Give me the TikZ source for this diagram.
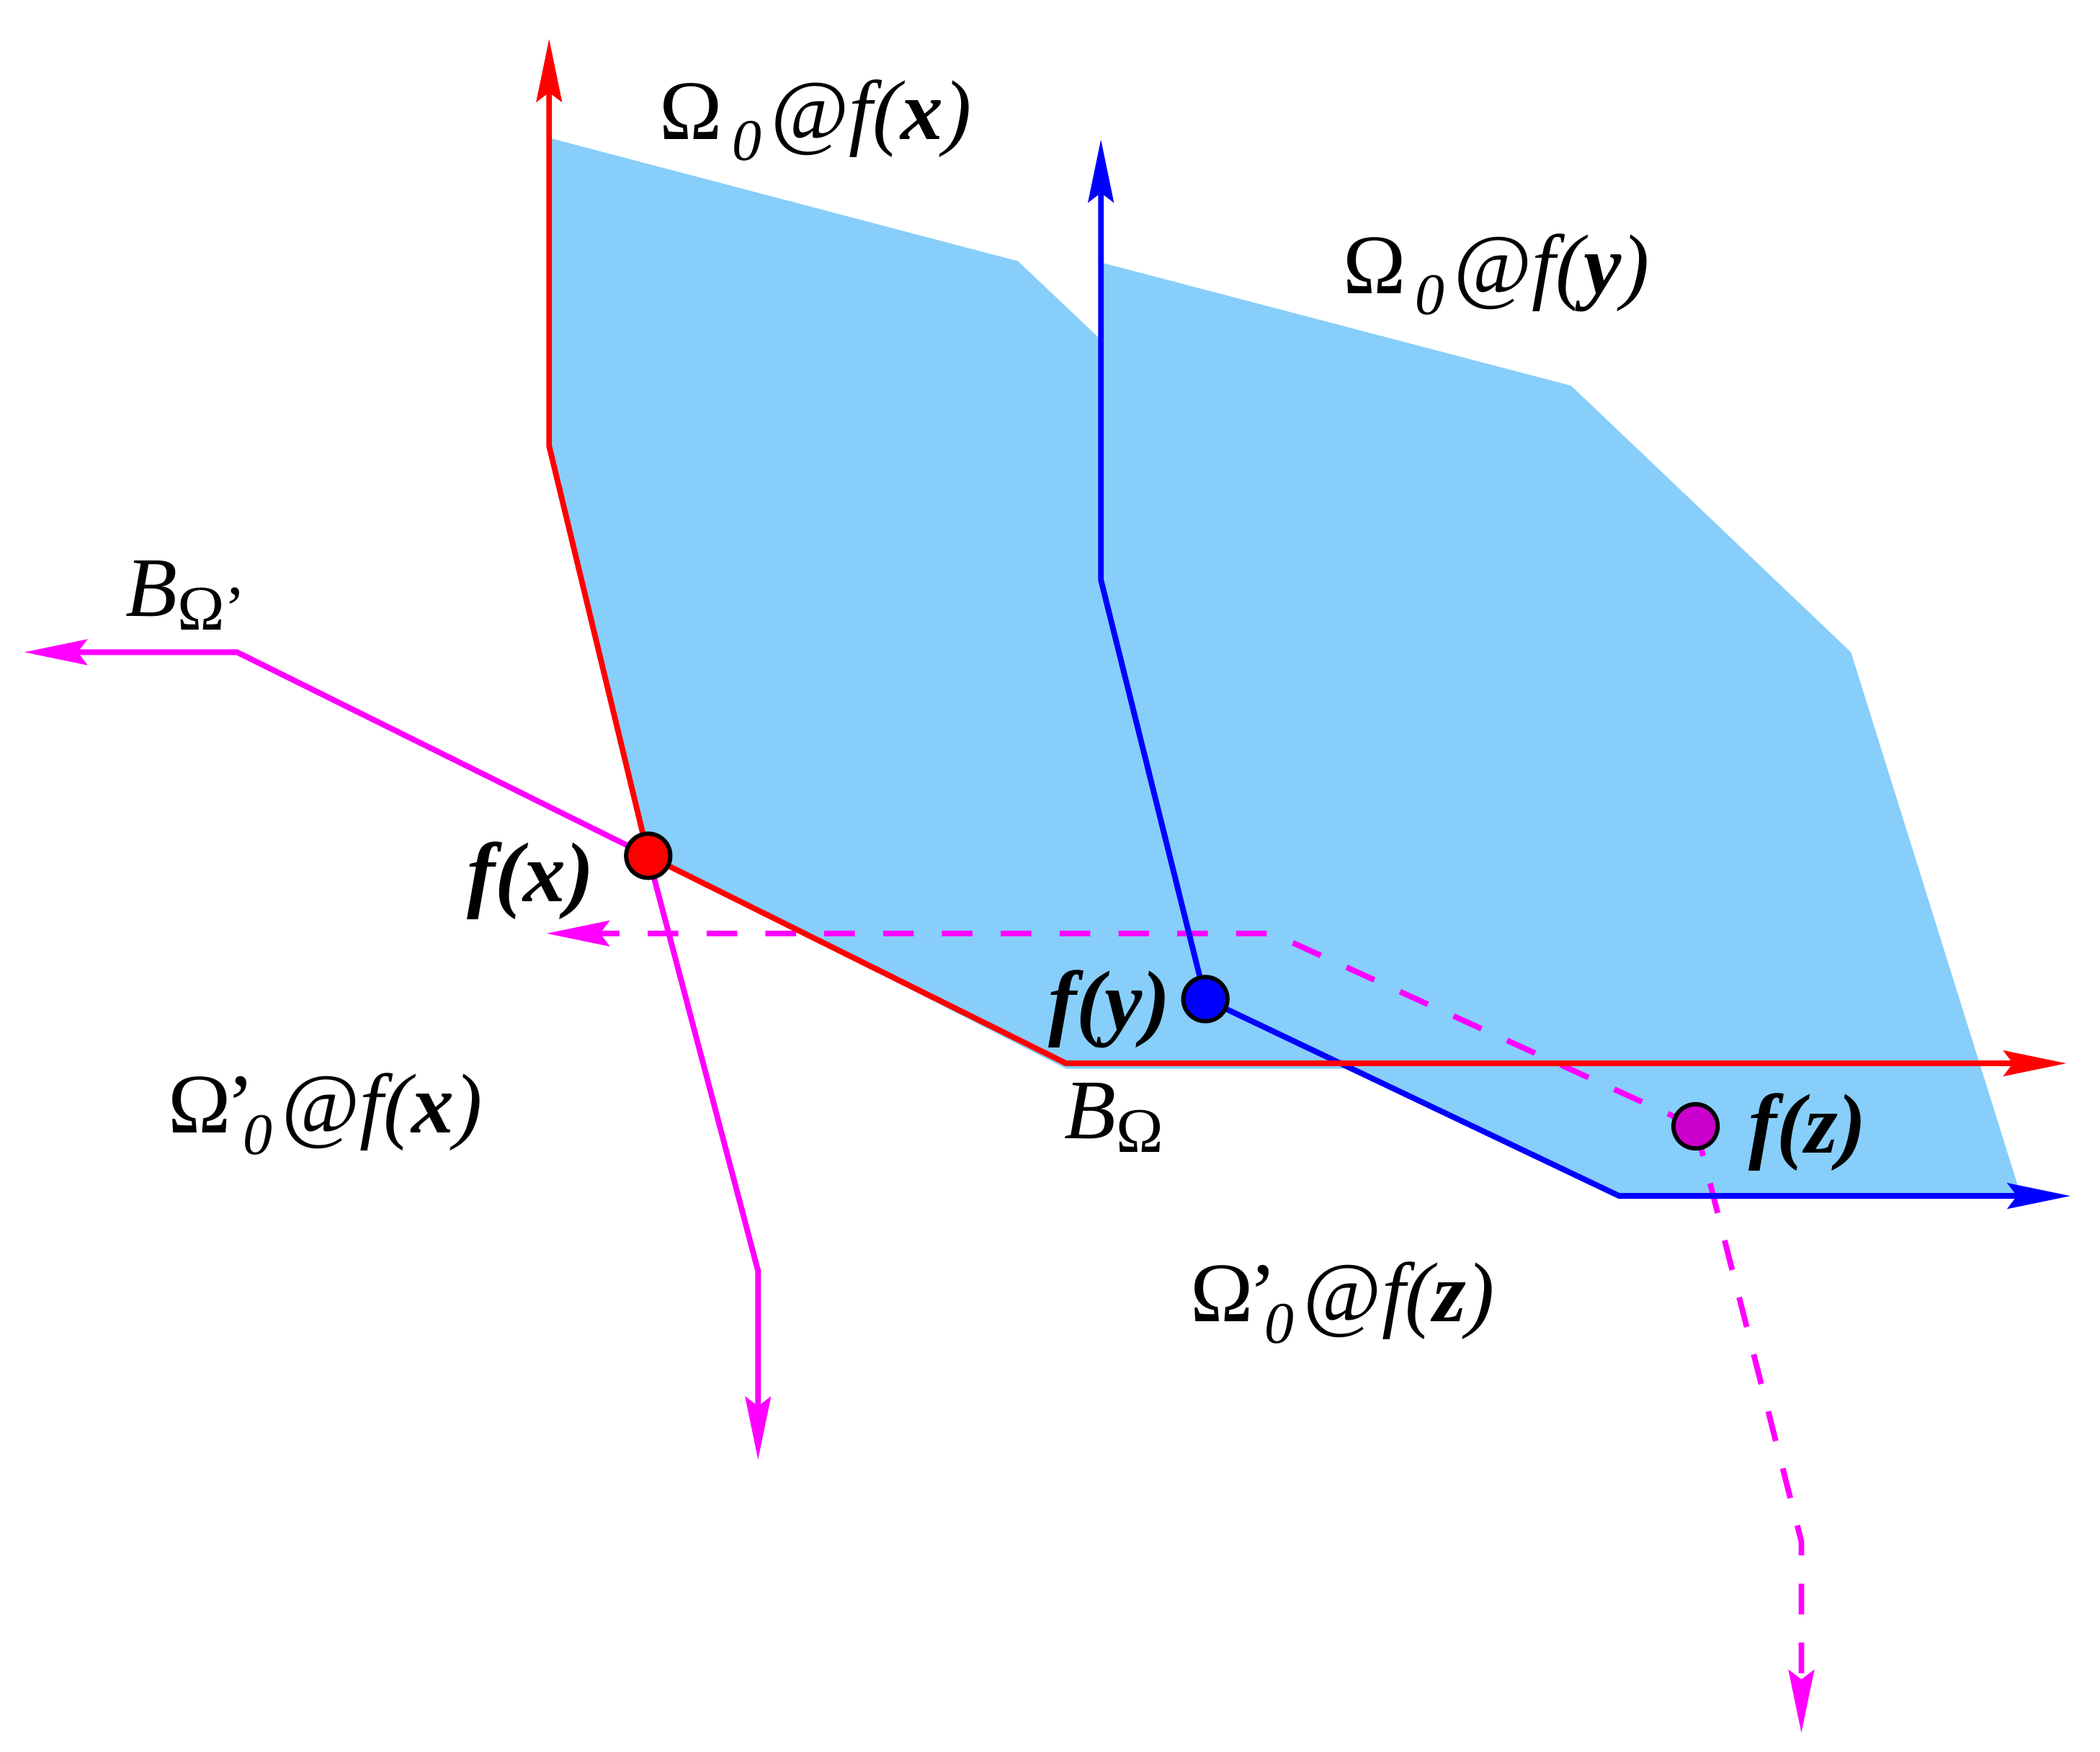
\documentclass[tikz,border=0pt]{standalone}
\usepackage{fontspec}
\setmainfont{Liberation Serif}
\usetikzlibrary{arrows.meta}
\definecolor{skyfill}{RGB}{135,206,250}
\definecolor{zdot}{RGB}{204,0,204}
\definecolor{pinkline}{RGB}{255,0,255}
\newcommand{\zsub}{\raisebox{-4.5pt}{\fontsize{12.5}{14}\selectfont\textit{0}}}
\newcommand{\omat}[1]{Ω\kern2pt\zsub\kern2pt@\textit{f(\textbf{#1})}}
\newcommand{\omprimeat}[1]{Ω\kern-1pt’\kern-2.5pt\zsub\kern2pt@\textit{f(\textbf{#1})}}

\begin{document}
\begin{tikzpicture}[>={Stealth[length=4.7mm,width=1.9mm,inset=0.7mm]},
    lab/.style={anchor=base west, inner sep=0pt, font=\fontsize{18}{20}\selectfont},
    fdot/.style={circle, draw=black, line width=0.9pt, minimum size=3.3mm, inner sep=0pt},
    redline/.style={draw=red, line width=1.2pt},
    blueline/.style={draw=blue, line width=1.2pt},
    magline/.style={draw=pinkline, line width=1.2pt},
    magdash/.style={magline, dash pattern=on 6.5pt off 6pt}]
    \useasboundingbox (0,0) rectangle (15.68,13.08);

    % the three points
    \coordinate (px) at (4.84,6.69);
    \coordinate (py) at (9.00,5.62);
    \coordinate (pz) at (12.66,4.67);

    % Omega_0 at f(x) and at f(y) (light blue)
    \fill[skyfill] (4.10,12.05) -- (7.60,11.13) -- (9.70,9.14) -- (10.96,5.10)
        -- (7.96,5.10) -- (px) -- (4.10,9.75) -- cycle;
    \fill[skyfill] (8.22,11.12) -- (11.73,10.20) -- (13.82,8.21) -- (15.09,4.15)
        -- (12.09,4.15) -- (py) -- (8.22,8.75) -- cycle;

    % B_Omega' (magenta)
    \coordinate (mtip) at (0.18,8.21);
    \coordinate (mbend) at (1.77,8.21);
    \coordinate (mlow) at (5.66,3.59);
    \coordinate (mend) at (5.66,2.18);
    \draw[magline,<->] (mtip) -- (mbend) -- (px) -- (mlow) -- (mend);

    % Omega'_0 at f(z) (dashed)
    \coordinate (dkink) at (9.50,6.11);
    \coordinate (dleft) at (4.08,6.11);
    \coordinate (dlow) at (13.45,1.57);
    \coordinate (dend) at (13.45,0.14);
    \draw[magdash,->] (pz) -- (dkink) -- (dleft);
    \draw[magdash,->] (pz) -- (dlow) -- (dend);

    % boundary at f(y) (blue)
    \coordinate (btop) at (8.22,12.04);
    \coordinate (bbend) at (8.22,8.75);
    \coordinate (bkink) at (12.09,4.15);
    \coordinate (bright) at (15.46,4.15);
    \draw[blueline,<->] (btop) -- (bbend) -- (py) -- (bkink) -- (bright);

    % B_Omega (red)
    \coordinate (rtop) at (4.10,12.79);
    \coordinate (rbend) at (4.10,9.75);
    \coordinate (rkink) at (7.96,5.14);
    \coordinate (rright) at (15.43,5.14);
    \draw[redline,<->] (rtop) -- (rbend) -- (px) -- (rkink) -- (rright);

    % dots
    \node[fdot, fill=red] (fx) at (px) {};
    \node[fdot, fill=blue] (fy) at (py) {};
    \node[fdot, fill=zdot] (fz) at (pz) {};

    % labels
    \node[lab] (omfx) at (4.92,12.04) {\omat{x}};
    \node[lab] (omfy) at (10.02,10.89) {\omat{y}};
    \node[lab] (bomp) at (0.93,8.48) {\textit{B}\raisebox{-3pt}{\fontsize{13.5}{15}\selectfont Ω’}};
    \node[lab] (lfx) at (3.48,6.35) {\textbf{\textit{f(x)}}};
    \node[lab] (lfy) at (7.82,5.39) {\textbf{\textit{f(y)}}};
    \node[lab] (ompfx) at (1.25,4.62) {\omprimeat{x}};
    \node[lab] (bom) at (7.94,4.58) {\textit{B}\raisebox{-3pt}{\fontsize{13.5}{15}\selectfont Ω}};
    \node[lab] (lfz) at (13.05,4.47) {\textbf{\textit{f(z)}}};
    \node[lab] (ompfz) at (8.88,3.21) {\omprimeat{z}};
\end{tikzpicture}
\end{document}
